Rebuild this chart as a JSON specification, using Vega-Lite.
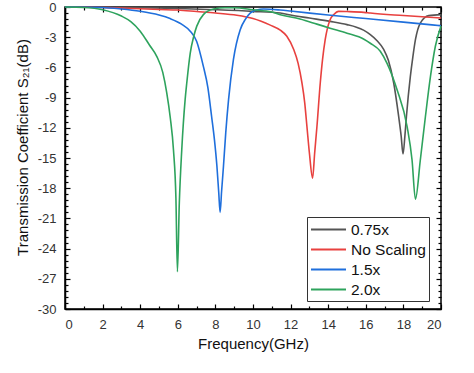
{
  "$schema": "https://vega.github.io/schema/vega-lite/v6.json",
  "width": 376,
  "height": 302,
  "autosize": "none",
  "padding": {"left": 65, "top": 7, "right": 33, "bottom": 64},
  "config": {
    "font": "Liberation Sans",
    "view": {"stroke": "black", "strokeWidth": 1.5},
    "axis": {
      "domainColor": "black",
      "domainWidth": 1.5,
      "tickColor": "black",
      "tickWidth": 1.2,
      "grid": false,
      "labelFont": "Liberation Sans",
      "labelFontSize": 13,
      "labelColor": "#333",
      "titleFont": "Liberation Sans",
      "titleFontSize": 15,
      "titleFontWeight": "normal",
      "titleColor": "#111"
    }
  },
  "data": {
    "values": [
      {"series": "0.75x", "f": 0, "s": 0},
      {"series": "0.75x", "f": 2, "s": -0.02},
      {"series": "0.75x", "f": 4, "s": -0.08},
      {"series": "0.75x", "f": 6, "s": -0.15},
      {"series": "0.75x", "f": 8, "s": -0.27},
      {"series": "0.75x", "f": 10, "s": -0.43},
      {"series": "0.75x", "f": 11.45, "s": -0.6},
      {"series": "0.75x", "f": 12, "s": -0.8},
      {"series": "0.75x", "f": 13, "s": -1.1},
      {"series": "0.75x", "f": 14.1, "s": -1.43},
      {"series": "0.75x", "f": 15, "s": -1.75},
      {"series": "0.75x", "f": 15.5, "s": -2.0},
      {"series": "0.75x", "f": 15.88, "s": -2.3},
      {"series": "0.75x", "f": 16.24, "s": -2.75},
      {"series": "0.75x", "f": 16.6, "s": -3.35},
      {"series": "0.75x", "f": 16.95, "s": -4.2},
      {"series": "0.75x", "f": 17.2, "s": -5.3},
      {"series": "0.75x", "f": 17.48, "s": -7.5},
      {"series": "0.75x", "f": 17.75, "s": -10.9},
      {"series": "0.75x", "f": 17.88, "s": -12.8},
      {"series": "0.75x", "f": 17.98, "s": -14.6},
      {"series": "0.75x", "f": 18.08, "s": -12.8},
      {"series": "0.75x", "f": 18.16, "s": -10.9},
      {"series": "0.75x", "f": 18.37, "s": -6.9},
      {"series": "0.75x", "f": 18.5, "s": -5},
      {"series": "0.75x", "f": 18.64, "s": -3.25},
      {"series": "0.75x", "f": 18.9, "s": -1.6},
      {"series": "0.75x", "f": 19.35, "s": -0.86},
      {"series": "0.75x", "f": 20, "s": -0.76},

      {"series": "No Scaling", "f": 0, "s": 0},
      {"series": "No Scaling", "f": 2, "s": -0.05},
      {"series": "No Scaling", "f": 3, "s": -0.1},
      {"series": "No Scaling", "f": 4, "s": -0.18},
      {"series": "No Scaling", "f": 5, "s": -0.25},
      {"series": "No Scaling", "f": 6, "s": -0.3},
      {"series": "No Scaling", "f": 7, "s": -0.45},
      {"series": "No Scaling", "f": 8, "s": -0.6},
      {"series": "No Scaling", "f": 9.14, "s": -0.82},
      {"series": "No Scaling", "f": 10, "s": -1.15},
      {"series": "No Scaling", "f": 10.4, "s": -1.4},
      {"series": "No Scaling", "f": 10.92, "s": -1.8},
      {"series": "No Scaling", "f": 11.45, "s": -2.3},
      {"series": "No Scaling", "f": 11.8, "s": -2.9},
      {"series": "No Scaling", "f": 12.16, "s": -4.2},
      {"series": "No Scaling", "f": 12.4, "s": -5.6},
      {"series": "No Scaling", "f": 12.6, "s": -7.5},
      {"series": "No Scaling", "f": 12.75, "s": -9.5},
      {"series": "No Scaling", "f": 12.87, "s": -11.9},
      {"series": "No Scaling", "f": 13.0, "s": -14.5},
      {"series": "No Scaling", "f": 13.17, "s": -17.0},
      {"series": "No Scaling", "f": 13.28, "s": -14.5},
      {"series": "No Scaling", "f": 13.4, "s": -11.9},
      {"series": "No Scaling", "f": 13.58, "s": -7.5},
      {"series": "No Scaling", "f": 13.7, "s": -5.2},
      {"series": "No Scaling", "f": 13.84, "s": -3.25},
      {"series": "No Scaling", "f": 14.1, "s": -1.26},
      {"series": "No Scaling", "f": 14.3, "s": -0.75},
      {"series": "No Scaling", "f": 14.55, "s": -0.43},
      {"series": "No Scaling", "f": 15, "s": -0.45},
      {"series": "No Scaling", "f": 15.9, "s": -0.53},
      {"series": "No Scaling", "f": 16.24, "s": -0.6},
      {"series": "No Scaling", "f": 18, "s": -0.85},
      {"series": "No Scaling", "f": 20, "s": -1.1},

      {"series": "1.5x", "f": 0, "s": 0},
      {"series": "1.5x", "f": 2, "s": -0.05},
      {"series": "1.5x", "f": 3, "s": -0.2},
      {"series": "1.5x", "f": 4, "s": -0.43},
      {"series": "1.5x", "f": 5, "s": -0.8},
      {"series": "1.5x", "f": 5.59, "s": -1.15},
      {"series": "1.5x", "f": 6.2, "s": -1.7},
      {"series": "1.5x", "f": 6.66, "s": -2.4},
      {"series": "1.5x", "f": 7.0, "s": -3.4},
      {"series": "1.5x", "f": 7.36, "s": -5.9},
      {"series": "1.5x", "f": 7.6, "s": -8.0},
      {"series": "1.5x", "f": 7.8, "s": -10.9},
      {"series": "1.5x", "f": 7.95, "s": -13.2},
      {"series": "1.5x", "f": 8.08, "s": -15.8},
      {"series": "1.5x", "f": 8.18, "s": -18.5},
      {"series": "1.5x", "f": 8.25, "s": -20.4},
      {"series": "1.5x", "f": 8.33, "s": -18.3},
      {"series": "1.5x", "f": 8.43, "s": -15.8},
      {"series": "1.5x", "f": 8.55, "s": -12.5},
      {"series": "1.5x", "f": 8.7, "s": -9.2},
      {"series": "1.5x", "f": 8.96, "s": -5.2},
      {"series": "1.5x", "f": 9.32, "s": -2.25},
      {"series": "1.5x", "f": 9.6, "s": -1.2},
      {"series": "1.5x", "f": 9.85, "s": -0.6},
      {"series": "1.5x", "f": 10.2, "s": -0.3},
      {"series": "1.5x", "f": 10.56, "s": -0.2},
      {"series": "1.5x", "f": 11.45, "s": -0.3},
      {"series": "1.5x", "f": 12, "s": -0.4},
      {"series": "1.5x", "f": 14, "s": -0.8},
      {"series": "1.5x", "f": 16, "s": -1.15},
      {"series": "1.5x", "f": 18, "s": -1.5},
      {"series": "1.5x", "f": 20, "s": -1.86},

      {"series": "2.0x", "f": 0, "s": 0},
      {"series": "2.0x", "f": 1, "s": -0.05},
      {"series": "2.0x", "f": 2, "s": -0.27},
      {"series": "2.0x", "f": 3, "s": -0.9},
      {"series": "2.0x", "f": 3.5, "s": -1.45},
      {"series": "2.0x", "f": 4, "s": -2.4},
      {"series": "2.0x", "f": 4.5, "s": -3.8},
      {"series": "2.0x", "f": 4.88, "s": -4.9},
      {"series": "2.0x", "f": 5.2, "s": -6.5},
      {"series": "2.0x", "f": 5.41, "s": -8.5},
      {"series": "2.0x", "f": 5.6, "s": -11},
      {"series": "2.0x", "f": 5.77, "s": -14.2},
      {"series": "2.0x", "f": 5.9, "s": -19},
      {"series": "2.0x", "f": 5.98, "s": -26.3},
      {"series": "2.0x", "f": 6.08, "s": -19.5},
      {"series": "2.0x", "f": 6.21, "s": -14.2},
      {"series": "2.0x", "f": 6.39, "s": -9.2},
      {"series": "2.0x", "f": 6.48, "s": -7.5},
      {"series": "2.0x", "f": 6.66, "s": -4.6},
      {"series": "2.0x", "f": 6.85, "s": -2.9},
      {"series": "2.0x", "f": 7.01, "s": -1.9},
      {"series": "2.0x", "f": 7.36, "s": -0.76},
      {"series": "2.0x", "f": 7.9, "s": -0.2},
      {"series": "2.0x", "f": 8.5, "s": -0.08},
      {"series": "2.0x", "f": 9, "s": -0.08},
      {"series": "2.0x", "f": 10, "s": -0.27},
      {"series": "2.0x", "f": 11, "s": -0.5},
      {"series": "2.0x", "f": 11.45, "s": -0.76},
      {"series": "2.0x", "f": 12.5, "s": -1.2},
      {"series": "2.0x", "f": 13.4, "s": -1.7},
      {"series": "2.0x", "f": 14.1, "s": -2.1},
      {"series": "2.0x", "f": 15, "s": -2.6},
      {"series": "2.0x", "f": 15.9, "s": -3.2},
      {"series": "2.0x", "f": 16.24, "s": -3.6},
      {"series": "2.0x", "f": 16.77, "s": -4.4},
      {"series": "2.0x", "f": 17.13, "s": -5.6},
      {"series": "2.0x", "f": 17.4, "s": -6.8},
      {"series": "2.0x", "f": 17.66, "s": -8.2},
      {"series": "2.0x", "f": 18.2, "s": -11.9},
      {"series": "2.0x", "f": 18.46, "s": -15.2},
      {"series": "2.0x", "f": 18.64, "s": -19.1},
      {"series": "2.0x", "f": 18.9, "s": -15.2},
      {"series": "2.0x", "f": 19.17, "s": -10.9},
      {"series": "2.0x", "f": 19.44, "s": -6.9},
      {"series": "2.0x", "f": 19.7, "s": -3.9},
      {"series": "2.0x", "f": 20, "s": -1.9}
    ]
  },
  "layer": [
    {
      "mark": {"type": "line", "strokeWidth": 1.6, "interpolate": "monotone"},
      "encoding": {
        "x": {
          "field": "f", "type": "quantitative",
          "scale": {"domain": [0, 20], "nice": false},
          "title": "Frequency(GHz)",
          "axis": {
            "orient": "bottom",
            "values": [0,1,2,3,4,5,6,7,8,9,10,11,12,13,14,15,16,17,18,19,20],
            "labelExpr": "datum.value % 2 === 0 ? datum.label : ''",
            "tickSize": {"condition": {"test": "datum.value % 2 === 0", "value": -5}, "value": -3},
            "labelPadding": 14,
            "titlePadding": 5
          }
        },
        "y": {
          "field": "s", "type": "quantitative",
          "scale": {"domain": [-30, 0], "nice": false},
          "title": "Transmission Coefficient S₂₁(dB)",
          "axis": {
            "orient": "left",
            "values": [0,-0.6,-1.2,-1.8,-2.4,-3,-3.6,-4.2,-4.8,-5.4,-6,-6.6,-7.2,-7.8,-8.4,-9,-9.6,-10.2,-10.8,-11.4,-12,-12.6,-13.2,-13.8,-14.4,-15,-15.6,-16.2,-16.8,-17.4,-18,-18.6,-19.2,-19.8,-20.4,-21,-21.6,-22.2,-22.8,-23.4,-24,-24.6,-25.2,-25.8,-26.4,-27,-27.6,-28.2,-28.8,-29.4,-30],
            "labelExpr": "abs(round(datum.value*10)) % 30 === 0 ? '' + round(datum.value) : ''",
            "tickSize": {"condition": {"test": "abs(round(datum.value*10)) % 30 === 0", "value": -5}, "value": -3},
            "labelPadding": 14,
            "titlePadding": 7,
            "titleY": 140
          }
        },
        "color": {
          "field": "series", "type": "nominal",
          "scale": {
            "domain": ["0.75x", "No Scaling", "1.5x", "2.0x"],
            "range": ["#555555", "#e8413f", "#1f6fdc", "#2ea35d"]
          },
          "legend": {
            "orient": "none",
            "legendX": 242,
            "legendY": 210,
            "title": null,
            "strokeColor": "#333",
            "fillColor": "white",
            "padding": 3,
            "symbolType": "M-2.06,0H2.06",
            "symbolSize": 289,
            "symbolOffset": 9,
            "symbolStrokeWidth": 2,
            "labelFontSize": 15.5,
            "labelFont": "Liberation Sans",
            "labelColor": "#111",
            "labelOffset": 13,
            "rowPadding": 2
          }
        }
      }
    },
    {
      "mark": {"type": "point", "opacity": 0},
      "encoding": {
        "x": {
          "field": "f", "type": "quantitative",
          "axis": {
            "orient": "top",
            "values": [0,1,2,3,4,5,6,7,8,9,10,11,12,13,14,15,16,17,18,19,20],
            "labels": false,
            "title": null,
            "domain": false,
            "tickSize": {"condition": {"test": "datum.value % 2 === 0", "value": -5}, "value": -3}
          }
        },
        "y": {
          "field": "s", "type": "quantitative",
          "axis": {
            "orient": "right",
            "values": [0,-0.6,-1.2,-1.8,-2.4,-3,-3.6,-4.2,-4.8,-5.4,-6,-6.6,-7.2,-7.8,-8.4,-9,-9.6,-10.2,-10.8,-11.4,-12,-12.6,-13.2,-13.8,-14.4,-15,-15.6,-16.2,-16.8,-17.4,-18,-18.6,-19.2,-19.8,-20.4,-21,-21.6,-22.2,-22.8,-23.4,-24,-24.6,-25.2,-25.8,-26.4,-27,-27.6,-28.2,-28.8,-29.4,-30],
            "labels": false,
            "title": null,
            "domain": false,
            "tickSize": {"condition": {"test": "abs(round(datum.value*10)) % 30 === 0", "value": -5}, "value": -3}
          }
        }
      }
    }
  ],
  "resolve": {"axis": {"x": "independent", "y": "independent"}}
}
